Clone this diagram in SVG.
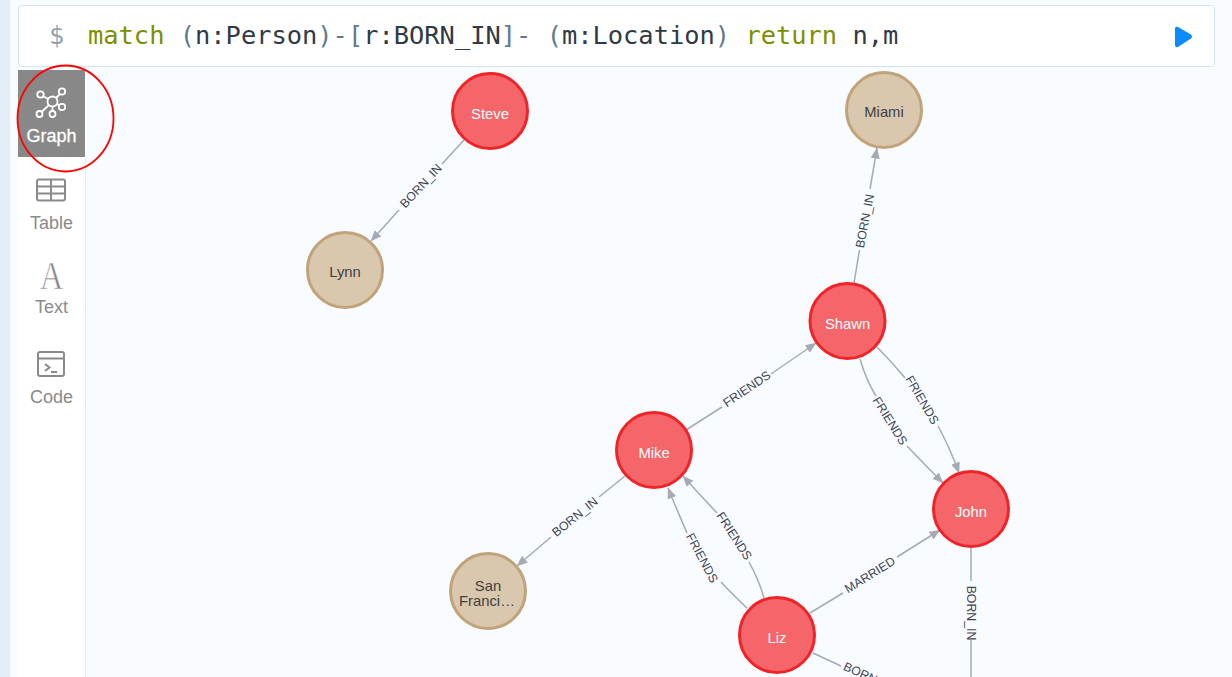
<svg xmlns="http://www.w3.org/2000/svg" width="1232" height="677" viewBox="0 0 1232 677">
<style>
text{font-family:"Liberation Sans",Arial,sans-serif}
.code{font-family:"DejaVu Sans Mono",monospace;font-size:25.4px;fill:#2f3a46}
.kw{fill:#7d8f00}
.br{fill:#5f7a8c}
.tab{font-size:18px;fill:#8a8a8a;text-anchor:middle}
.p circle{fill:#f4666a;stroke:#ee2428;stroke-width:3}
.l circle{fill:#d9c8ae;stroke:#c0a378;stroke-width:3}
.p text{fill:#fff;font-size:14.800px;text-anchor:middle}
.l text{fill:#3f3f3f;font-size:14.800px;text-anchor:middle}
.e{fill:none;stroke:#a5abb6;stroke-width:1.5}
.el{font-size:12.300px;fill:#404550;text-anchor:middle}
.ic{fill:none;stroke:#8a8a8a;stroke-width:2}
</style>
<defs><marker id="a" markerWidth="12" markerHeight="10" refX="10.5" refY="4.5" orient="auto" markerUnits="userSpaceOnUse"><path d="M0 0L11 4.5L0 9Z" fill="#a5abb6"/></marker></defs>
<rect width="1232" height="677" fill="#f8fbff"/>
<rect width="10" height="677" fill="#e2edf6"/>
<rect x="18" y="157" width="67" height="520" fill="#fff"/>
<path d="M85.500 157V677" stroke="#e8edf2" stroke-width="1"/>
<g id="query">
<rect x="18.500" y="5.500" width="1196" height="61" rx="3" fill="#fff" stroke="#d5e3f0"/>
<text x="49" y="44" class="code" style="fill:#94a2ad">$</text>
<text x="88" y="44" class="code" xml:space="preserve"><tspan class="kw">match</tspan> <tspan class="br">(</tspan>n:Person<tspan class="br">)-[</tspan>r:BORN_IN<tspan class="br">]-</tspan> <tspan class="br">(</tspan>m:Location<tspan class="br">)</tspan> <tspan class="kw">return</tspan> n,m</text>
<path d="M1175 28.500Q1175 26 1178 27L1191 34.500Q1193 37 1191 38.500L1178 47Q1175 48 1175 45Z" fill="#0a8cff"/>
</g>
<g id="tab-graph">
<rect x="18" y="70" width="67" height="87" fill="#888"/>
<g fill="none" stroke="#fff" stroke-width="1.800"><circle cx="52.500" cy="101.500" r="5"/><circle cx="40.500" cy="94.500" r="3.200"/><circle cx="62" cy="91.500" r="3.200"/><circle cx="62" cy="107" r="3.200"/><circle cx="52.500" cy="114" r="3"/><circle cx="39.500" cy="114" r="3"/><path d="M43.500 96.500L48.500 99M60 94L56 98M57 103.500L59 105.500M52.500 106.500V111M49 105L41.500 112"/></g>
<text x="51.500" y="142" style="font-size:18px;fill:#fff;stroke:#fff;stroke-width:.3;text-anchor:middle">Graph</text>
</g>
<g id="tab-table">
<rect x="37" y="179.500" width="28" height="21" rx="2" class="ic"/><path class="ic" d="M37 186.500H65M37 193.500H65M51 179.500V200.500"/>
<text x="51.500" y="229" class="tab">Table</text>
</g>
<g id="tab-text">
<text transform="translate(51.500 289) scale(.82 1)" style="font-family:'Liberation Serif',serif;font-size:40px;fill:#8a8a8a;stroke:#fff;stroke-width:.7;text-anchor:middle">A</text>
<text x="51.500" y="313" class="tab">Text</text>
</g>
<g id="tab-code">
<rect x="38" y="352" width="26" height="24" rx="2" class="ic"/><path class="ic" d="M38 358.500H64M45 364L49.500 367.500L45 371M51 372H57"/>
<text x="51.500" y="403" class="tab">Code</text>
</g>
<ellipse id="highlight" cx="65.500" cy="118.500" rx="48" ry="53" fill="none" stroke="#f00" stroke-width="1.800"/>
<g id="connectors">
<path class="e" d="M464 140L442 164M399 210L371 241" marker-end="url(#a)"/>
<path class="e" d="M854 283L859.500 250M870 189L877 148" marker-end="url(#a)"/>
<path class="e" d="M686 430L722 407M771 374L816 343" marker-end="url(#a)"/>
<path class="e" d="M625 476L599 497M551 537L517 566" marker-end="url(#a)"/>
<path class="e" d="M860 359Q866 380 876 396M907 446Q925 465 943 483" marker-end="url(#a)"/>
<path class="e" d="M877 347Q892 362 905 378M938 426Q950 448 959 473" marker-end="url(#a)"/>
<path class="e" d="M747 608Q730 592 721 582M687 533Q677 510 668 488" marker-end="url(#a)"/>
<path class="e" d="M764 598Q759 580 749 562M717 513Q700 495 683 476" marker-end="url(#a)"/>
<path class="e" d="M810 613L843 593M897 557L940 530" marker-end="url(#a)"/>
<path class="e" d="M971 548V581M971 640V677"/>
<path class="e" d="M813 653L841 666"/>
<text class="el" transform="translate(421 186) rotate(-47)" dy="4">BORN_IN</text>
<text class="el" transform="translate(865 221) rotate(-79)" dy="4">BORN_IN</text>
<text class="el" transform="translate(747 389) rotate(-34)" dy="4">FRIENDS</text>
<text class="el" transform="translate(575 517) rotate(-39)" dy="4">BORN_IN</text>
<text class="el" transform="translate(890 421) rotate(58)" dy="4">FRIENDS</text>
<text class="el" transform="translate(922 400) rotate(60)" dy="4">FRIENDS</text>
<text class="el" transform="translate(702 558) rotate(62)" dy="4">FRIENDS</text>
<text class="el" transform="translate(734 536) rotate(57)" dy="4">FRIENDS</text>
<text class="el" transform="translate(870 575) rotate(-32)" dy="4">MARRIED</text>
<text class="el" transform="translate(971 613) rotate(90)" dy="4">BORN_IN</text>
<text class="el" transform="translate(869 677) rotate(24)" dy="4">BORN_IN</text>
</g>
<g id="steve" class="p"><circle cx="490" cy="111" r="37.500"/><text x="490" y="119">Steve</text></g>
<g id="miami" class="l"><circle cx="884" cy="110" r="37.500"/><text x="884" y="117">Miami</text></g>
<g id="lynn" class="l"><circle cx="345" cy="270" r="37.500"/><text x="345" y="277">Lynn</text></g>
<g id="shawn" class="p"><circle cx="847.500" cy="321" r="37.500"/><text x="847.500" y="329">Shawn</text></g>
<g id="mike" class="p"><circle cx="654" cy="450" r="37.500"/><text x="654" y="458">Mike</text></g>
<g id="john" class="p"><circle cx="971" cy="509" r="37.500"/><text x="971" y="517">John</text></g>
<g id="san-francisco" class="l"><circle cx="488" cy="591" r="37.500"/><text x="488" y="591">San</text><text x="487" y="606">Franci…</text></g>
<g id="liz" class="p"><circle cx="777" cy="635" r="37.500"/><text x="777" y="643">Liz</text></g>
</svg>
